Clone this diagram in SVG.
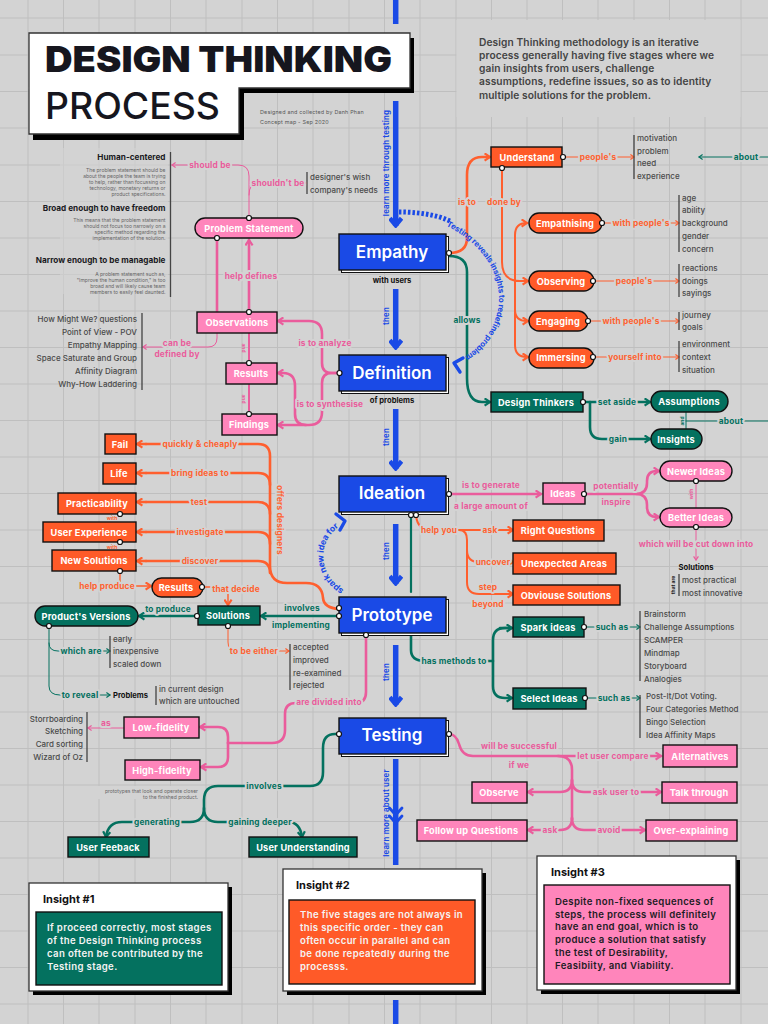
<svg xmlns="http://www.w3.org/2000/svg" width="768" height="1024" viewBox="0 0 768 1024">
<style>
text{font-family:Inter,"Liberation Sans",sans-serif}
.bg{fill:#d3d3d3}
.grid{stroke:#bfbfbf;stroke-width:1;fill:none}
.n{fill:none;stroke-linecap:round;stroke-linejoin:round}
.co{stroke:#ff5f2e}.ct{stroke:#04715f}.cp{stroke:#ea5c9c}.cb{stroke:#1a4ae6}
.w3{stroke-width:2.6}.w2{stroke-width:2}.w1{stroke-width:1}
.bar{stroke:#444;stroke-width:1.3;fill:none}
.l{font-size:8.3px;font-weight:700;text-anchor:middle;stroke:#d3d3d3;stroke-width:4;stroke-linejoin:round;paint-order:stroke;letter-spacing:.2px}
.lo{fill:#ff6230}.lt{fill:#04715f}.lp{fill:#ea5c9c}
.lb{font-size:7.8px;font-weight:700;fill:#1a4ae6;text-anchor:middle;letter-spacing:.2px}
.i{font-size:8px;fill:#4a4a4a;font-weight:500}
.ir{text-anchor:end}
.s{font-size:5px;fill:#666;text-anchor:end}
.h{font-size:8.2px;font-weight:700;fill:#1a1a22;text-anchor:end}
.b{font-size:7.6px;font-weight:700;fill:#111}
.m{text-anchor:middle}
.sm{font-size:5px;font-weight:700;text-anchor:middle}
.nt{font-size:9.2px;font-weight:700;fill:#fff;text-anchor:middle;letter-spacing:.2px}
.st{font-size:17px;font-weight:600;fill:#fff;text-anchor:middle}
.bx{stroke:#111;stroke-width:1.4}
.O{fill:#ff5a28}.T{fill:#04715f}.P{fill:#ff85bb}.B{fill:#1a4ae6}
.d{fill:#fff;stroke:#111;stroke-width:1.2}
.card{fill:#fff;stroke:#333;stroke-width:1.3}
.sh{fill:#000}
.it{font-size:11px;font-weight:700;fill:#111}
.ct2{font-size:9.6px;font-weight:600;fill:#f4f4f4;letter-spacing:.35px}
.dsc{font-size:10.2px;font-weight:600;fill:#444;letter-spacing:.1px}
</style>
<defs>
<marker id="ao" viewBox="0 0 10 10" refX="8" refY="5" markerWidth="9" markerHeight="9" markerUnits="userSpaceOnUse" orient="auto"><path d="M2 1L8 5L2 9" fill="none" stroke="#ff5f2e" stroke-width="2.4"/></marker>
<marker id="at" viewBox="0 0 10 10" refX="8" refY="5" markerWidth="9" markerHeight="9" markerUnits="userSpaceOnUse" orient="auto"><path d="M2 1L8 5L2 9" fill="none" stroke="#04715f" stroke-width="2.4"/></marker>
<marker id="ap" viewBox="0 0 10 10" refX="8" refY="5" markerWidth="9" markerHeight="9" markerUnits="userSpaceOnUse" orient="auto"><path d="M2 1L8 5L2 9" fill="none" stroke="#ea5c9c" stroke-width="2.4"/></marker>
<marker id="so" viewBox="0 0 10 10" refX="8" refY="5" markerWidth="6" markerHeight="6" markerUnits="userSpaceOnUse" orient="auto"><path d="M2 1L8 5L2 9" fill="none" stroke="#ff5f2e" stroke-width="2"/></marker>
<marker id="st" viewBox="0 0 10 10" refX="8" refY="5" markerWidth="6" markerHeight="6" markerUnits="userSpaceOnUse" orient="auto"><path d="M2 1L8 5L2 9" fill="none" stroke="#04715f" stroke-width="2"/></marker>
<marker id="sp" viewBox="0 0 10 10" refX="8" refY="5" markerWidth="6" markerHeight="6" markerUnits="userSpaceOnUse" orient="auto"><path d="M2 1L8 5L2 9" fill="none" stroke="#ea5c9c" stroke-width="2"/></marker>
<marker id="ab" viewBox="0 0 10 10" refX="8.5" refY="5" markerWidth="14" markerHeight="14" markerUnits="userSpaceOnUse" orient="auto"><path d="M3 .8L8 5L3 9.2" fill="none" stroke="#1a4ae6" stroke-width="3.2"/></marker>
</defs>
<rect class="bg" width="768" height="1024"/>
<path class="grid" d="M28 0V1024M63.5 0V1024M99 0V1024M135 0V1024M170.5 0V1024M206 0V1024M242 0V1024M277.5 0V1024M313 0V1024M349 0V1024M384.500 0V1024M420 0V1024M456 0V1024M491.500 0V1024M527 0V1024M562.500 0V1024M598 0V1024M634 0V1024M669.500 0V1024M705 0V1024M741 0V1024M0 18H768M0 55H768M0 91.500H768M0 128H768M0 165H768M0 201.500H768M0 238H768M0 274.500H768M0 311H768M0 347.500H768M0 384H768M0 420.500H768M0 457H768M0 493.500H768M0 530H768M0 566.500H768M0 603H768M0 639.500H768M0 676H768M0 712H768M0 748.500H768M0 785H768M0 821.500H768M0 858H768M0 894.500H768M0 931H768M0 967.500H768M0 1004H768"/>
<rect class="bg" x="456.500" y="20" width="284" height="97"/>
<rect class="bg" x="60" y="148" width="108" height="146" opacity=".6"/>
<rect class="bg" x="92" y="786" width="108" height="13"/>

<g id="title">
<path class="sh" d="M33 38H414V93H244V140H33Z"/>
<path d="M29 33H410V88H239V134H29Z" fill="#fff" stroke="#333" stroke-width="1.3"/>
<text x="45" y="72" font-size="36" font-weight="900" fill="#16161e" textLength="347" lengthAdjust="spacingAndGlyphs">DESIGN THINKING</text>
<text x="45" y="119" font-size="37" font-weight="500" fill="#16161e" textLength="175" lengthAdjust="spacingAndGlyphs">PROCESS</text>
<text x="260" y="114" font-size="5.400" fill="#555" letter-spacing=".2">Designed and collected by Danh Phan</text>
<text x="260" y="124" font-size="5.400" fill="#555" letter-spacing=".2">Concept map - Sep 2020</text>
</g>
<g id="description" class="dsc">
<text x="479" y="45.500">Design Thinking methodology is an iterative</text>
<text x="479" y="58.500">process generally having five stages where we</text>
<text x="479" y="72">gain insights from users, challenge</text>
<text x="479" y="85">assumptions, redefine issues, so as to identity</text>
<text x="479" y="98.500">multiple solutions for the problem.</text>
</g>

<g id="connectors">
<g class="n cb">
<path d="M395.700 0V24" stroke-width="5.500" stroke-linecap="butt"/>
<path d="M395.700 101V226" stroke-width="5.500" marker-end="url(#ab)" stroke-linecap="butt"/>
<path d="M395.700 289V348" stroke-width="5.500" marker-end="url(#ab)" stroke-linecap="butt"/>
<path d="M395.700 409V469" stroke-width="5.500" marker-end="url(#ab)" stroke-linecap="butt"/>
<path d="M395.700 524V584" stroke-width="5.500" marker-end="url(#ab)" stroke-linecap="butt"/>
<path d="M395.700 645V705" stroke-width="5.500" marker-end="url(#ab)" stroke-linecap="butt"/>
<path d="M395.700 759V865" stroke-width="5.500" stroke-linecap="butt"/>
<path d="M389.500 808L395.700 815L402 808M389.500 816L395.700 823L402 816" stroke-width="2.800"/>
<path d="M395.700 1000V1024" stroke-width="5.500" stroke-linecap="butt"/>
<path d="M399 212C415 212 435 214 450 221" stroke-width="5" stroke-dasharray="2.500 2" stroke-linecap="butt"/>
<path d="M463 358L454 363L460 372" stroke-width="3.400"/>
<path d="M336 514L345 521L340 530" stroke-width="3.400"/>
</g>
<g class="n cp w3">
<path d="M217 238V312"/>
<path d="M249 312V240" marker-end="url(#ap)"/>
<path d="M339 373H332Q322 373 322 363V334Q322 321 309 321H278" marker-end="url(#ap)"/>
<path d="M339 373H332Q322 373 322 383V412Q322 425 309 425H278" marker-end="url(#ap)"/>
<path d="M306 425Q295 425 295 414V386Q295 373 283 373H278" marker-end="url(#ap)"/>
<path d="M249 333V363M249 384V414" stroke-width="2"/>
<path d="M449 494H541" marker-end="url(#ap)"/>
<path d="M584 494H636Q647 494 647 483V481Q647 471 657 471H659" marker-end="url(#ap)"/>
<path d="M636 494Q647 494 647 505V507Q647 517 657 517H659" marker-end="url(#ap)"/>
<path d="M366 635V692Q366 703 356 703H296Q285 703 285 714V730Q285 743 272 743H228"/>
<path d="M228 743V737Q228 727 218 727H200" marker-end="url(#ap)"/>
<path d="M228 743V757Q228 767 218 767H201" marker-end="url(#ap)"/>
<path d="M449 734Q456 734 459 744Q462 756 473 756H558Q572 756 572 770V820"/>
<path d="M558 756H661" marker-end="url(#ap)"/>
<path d="M572 780Q572 792 560 792H528" marker-end="url(#ap)"/>
<path d="M572 780Q572 792 584 792H661" marker-end="url(#ap)"/>
<path d="M572 818Q572 830 560 830H528" marker-end="url(#ap)"/>
<path d="M572 818Q572 830 584 830H645" marker-end="url(#ap)"/>
</g>
<g class="n cp w1">
<path d="M249 218V176Q249 165 238 165H172" marker-end="url(#sp)"/>
<path d="M249 195Q249 183 258 183H306"/>
<path d="M217 333V338Q217 347 208 347H143" marker-end="url(#sp)"/>
<path d="M124 728H88" marker-end="url(#sp)"/>
<path d="M696 481V508"/>
<path d="M696 527V560" marker-end="url(#sp)"/>
</g>
<g class="n co w3">
<path d="M449 253Q467 253 467 238V175Q467 157 482 157H490" marker-end="url(#ao)"/>
<path d="M146 444H258Q270 444 270 456V566Q270 583 287 583H306Q322 583 323 598Q324 608 339 609"/>
<path d="M146 473H258Q270 473 270 485"/>
<path d="M146 502H258Q270 502 270 514"/>
<path d="M146 532H258Q270 532 270 544"/>
<path d="M146 561H258Q270 561 270 573"/>
<path d="M146 444H137" marker-end="url(#ao)"/>
<path d="M146 473H137" marker-end="url(#ao)"/>
<path d="M146 502H137" marker-end="url(#ao)"/>
<path d="M146 532H137" marker-end="url(#ao)"/>
<path d="M146 561H137" marker-end="url(#ao)"/>
<path d="M515 281V235Q515 223 527 223" marker-end="url(#ao)" stroke-width="2"/>
<path d="M502 168V262Q502 281 520 281H528" marker-end="url(#ao)" stroke-width="2"/>
<path d="M515 281V310Q515 321 527 321H528" marker-end="url(#ao)" stroke-width="2"/>
<path d="M515 310V345Q515 357 527 357H528" marker-end="url(#ao)" stroke-width="2"/>
<path d="M416 516Q418 530 430 530H513" marker-end="url(#ao)" stroke-width="2"/>
<path d="M459 530Q467 530 467 540V582Q467 594 479 594H513" marker-end="url(#ao)" stroke-width="2"/>
<path d="M467 550Q467 562 479 562H513" marker-end="url(#ao)" stroke-width="2"/>
<path d="M120 571V586H151" marker-end="url(#ao)" stroke-width="1.400"/>
<path d="M202 587H228V605" marker-end="url(#ao)" stroke-width="1.400"/>
</g>
<g class="n co w1">
<path d="M566 157H634" marker-end="url(#so)"/>
<path d="M604 223H679" marker-end="url(#so)"/>
<path d="M595 281H679" marker-end="url(#so)"/>
<path d="M590 321H679" marker-end="url(#so)"/>
<path d="M595 357H679" marker-end="url(#so)"/>
<path d="M228 628V642Q228 651 236 651H289" marker-end="url(#so)"/>
</g>
<g class="n ct w3">
<path d="M449 256Q467 256 467 272V378Q467 402 482 402H490" marker-end="url(#at)"/>
<path d="M583 402H650" marker-end="url(#at)"/>
<path d="M590 402V427Q590 439 602 439H650" marker-end="url(#at)"/>
<path d="M339 616H261" marker-end="url(#at)"/>
<path d="M197 616H139" marker-end="url(#at)"/>
<path d="M411 516V592" stroke-width="2.200"/>
<path d="M411 633V650Q411 661 425 661H493"/>
<path d="M512 628H505Q493 628 493 640V686Q493 698 505 698H512" marker-end="url(#at)"/>
<path d="M500 628H512" marker-end="url(#at)"/>
<path d="M339 734H335Q323 734 323 748V772Q323 786 310 786H218Q204 786 204 800V808Q204 822 190 822H122Q108 822 106 837" marker-end="url(#at)"/>
<path d="M204 808Q204 822 218 822H288Q300 822 302 837" marker-end="url(#at)"/>
</g>
<g class="n ct w1">
<path d="M768 157H699" marker-end="url(#st)"/>
<path d="M686 412V429"/>
<path d="M686 421H768"/>
<path d="M49 628V643Q49 651 58 651H110" marker-end="url(#st)"/>
<path d="M49 643V686Q49 695 60 695H110" marker-end="url(#st)"/>
<path d="M586 627H640" marker-end="url(#st)"/>
<path d="M587 698H640" marker-end="url(#st)"/>
</g>
<g class="bar">
<path d="M170.500 152V297M307 172V194M142 313V390M634 135V179M679 195V252M679 264V297M679 312V330M679 341V372M110 636V668M156 686V705M290 644V690M87 712V762M679 574V596M640 611V681M640 695V738"/>
</g>
<g>
<text class="l lo" x="598" y="160">people's</text>
<text class="l lo" x="467" y="205">is to</text>
<text class="l lo" x="504" y="205">done by</text>
<text class="l lt" x="746" y="160">about</text>
<text class="l lo" x="641" y="226">with people's</text>
<text class="l lo" x="634" y="284">people's</text>
<text class="l lo" x="631" y="324">with people's</text>
<text class="l lo" x="635" y="360">yourself into</text>
<text class="l lt" x="467" y="323">allows</text>
<text class="l lt" x="617" y="405">set aside</text>
<text class="l lt" x="618" y="442">gain</text>
<text class="l lt" x="731" y="424">about</text>
<text class="l lp" x="210" y="168">should be</text>
<text class="l lp" x="278" y="186">shouldn't be</text>
<text class="l lp" x="251" y="279">help defines</text>
<text class="l lp" x="177" y="346">can be</text>
<text class="l lp" x="177" y="357">defined by</text>
<text class="l lp" x="325" y="346">is to analyze</text>
<text class="l lp" x="330" y="407">is to synthesise</text>
<text class="l lo" x="200" y="447">quickly &amp; cheaply</text>
<text class="l lo" x="200" y="476">bring ideas to</text>
<text class="l lo" x="199" y="505">test</text>
<text class="l lo" x="200" y="535">investigate</text>
<text class="l lo" x="200" y="564">discover</text>
<text class="l lo" transform="translate(277 520) rotate(90)" x="0" y="0">offers designers</text>
<text class="l lo" x="107" y="589">help produce</text>
<text class="l lo" x="236" y="592">that decide</text>
<text class="l lt" x="302" y="611">involves</text>
<text class="l lt" x="301" y="628">implementing</text>
<text class="l lt" x="168" y="612">to produce</text>
<text class="l lt" x="81" y="654">which are</text>
<text class="l lt" x="80" y="698">to reveal</text>
<text class="l lo" x="254" y="654">to be either</text>
<text class="l lp" x="329" y="705">are divided into</text>
<text class="l lp" x="106" y="726">as</text>
<text class="l lt" x="264" y="789">involves</text>
<text class="l lt" x="157" y="825">generating</text>
<text class="l lt" x="260" y="825">gaining deeper</text>
<text class="l lp" x="491" y="488">is to generate</text>
<text class="l lp" x="491" y="509">a large amount of</text>
<text class="l lp" x="616" y="489">potentially</text>
<text class="l lp" x="616" y="505">inspire</text>
<text class="l lp" x="696" y="546.500">which will be cut down into</text>
<text class="l lo" x="439" y="533">help you</text>
<text class="l lo" x="490" y="533">ask</text>
<text class="l lo" x="493" y="565">uncover</text>
<text class="l lo" x="488" y="590">step</text>
<text class="l lo" x="488" y="607">beyond</text>
<text class="l lt" x="454" y="664">has methods to</text>
<text class="l lt" x="612" y="630">such as</text>
<text class="l lt" x="614" y="701">such as</text>
<text class="l lp" x="519" y="749">will be successful</text>
<text class="l lp" x="519" y="768">if we</text>
<text class="l lp" x="613" y="758.500">let user compare</text>
<text class="l lp" x="616" y="795">ask user to</text>
<text class="l lp" x="550" y="833">ask</text>
<text class="l lp" x="609" y="833">avoid</text>
<text class="sm" fill="#ea5c9c" transform="translate(242 348) rotate(90)">and</text>
<text class="sm" fill="#ea5c9c" transform="translate(242 399) rotate(90)">and</text>
<text class="sm" fill="#ff6230" x="112" y="520">with</text>
<text class="sm" fill="#ff6230" x="112" y="549">with</text>
<text class="sm" fill="#04715f" transform="translate(684 421) rotate(-90)">and</text>
<text class="sm" fill="#ea5c9c" transform="translate(693 494) rotate(-90)">with</text>
<text class="sm" fill="#222" transform="translate(675 585) rotate(-90)">that are</text>
<text class="lb" transform="translate(388.500 163) rotate(-90)">learn more through testing</text>
<text class="lb" transform="translate(388.500 316) rotate(-90)">then</text>
<text class="lb" transform="translate(388.500 437) rotate(-90)">then</text>
<text class="lb" transform="translate(388.500 551) rotate(-90)">then</text>
<text class="lb" transform="translate(388.500 672) rotate(-90)">then</text>
<text class="lb" transform="translate(388.500 813) rotate(-90)">learn more about user</text>
<path id="arc1" d="M399 212C450 212 503 250 502 300C501 330 480 355 456 364" fill="none"/>
<text font-size="8" font-weight="700" fill="#1a4ae6" dy="3"><textPath href="#arc1" startOffset="50">Testing reveals insights to redefine problem</textPath></text>
<path id="arc2" d="M343 593C316 578 310 540 342 521" fill="none"/>
<text font-size="8.600" font-weight="700" fill="#1a4ae6" dy="3"><textPath href="#arc2" startOffset="1" letter-spacing=".2">spark new idea for</textPath></text>
</g>
</g>

<g id="texts-left">
<text class="h" x="165.500" y="160">Human-centered</text>
<text class="s" x="165.500" y="172">The problem statement should be</text>
<text class="s" x="165.500" y="178">about the people the team is trying</text>
<text class="s" x="165.500" y="184">to help, rather than focussing on</text>
<text class="s" x="165.500" y="190">technology, monetary returns or</text>
<text class="s" x="165.500" y="196">product specifications.</text>
<text class="h" x="165.500" y="211">Broad enough to have freedom</text>
<text class="s" x="165.500" y="222">This means that the problem statement</text>
<text class="s" x="165.500" y="228">should not focus too narrowly on a</text>
<text class="s" x="165.500" y="234">specific method regarding the</text>
<text class="s" x="165.500" y="240">implementation of the solution.</text>
<text class="h" x="165.500" y="263">Narrow enough to be managable</text>
<text class="s" x="165.500" y="276">A problem statement such as,</text>
<text class="s" x="165.500" y="282">"Improve the human condition," is too</text>
<text class="s" x="165.500" y="288">broad and will likely cause team</text>
<text class="s" x="165.500" y="294">members to easily feel daunted.</text>
<text class="s" x="198" y="792.500">prototypes that look and operate closer</text>
<text class="s" x="198" y="798.500">to the finished product.</text>
</g>
<g id="lists">
<text class="i" x="310" y="180">designer's wish</text><text class="i" x="310" y="193">company's needs</text>
<text class="i ir" x="137" y="322">How Might We? questions</text><text class="i ir" x="137" y="335">Point of View - POV</text><text class="i ir" x="137" y="348">Empathy Mapping</text><text class="i ir" x="137" y="361">Space Saturate and Group</text><text class="i ir" x="137" y="374">Affinity Diagram</text><text class="i ir" x="137" y="387">Why-How Laddering</text>
<text class="i" x="637" y="140.500">motivation</text><text class="i" x="637" y="153.500">problem</text><text class="i" x="637" y="166">need</text><text class="i" x="637" y="179">experience</text>
<text class="i" x="682" y="200.500">age</text><text class="i" x="682" y="213">ability</text><text class="i" x="682" y="226">background</text><text class="i" x="682" y="239">gender</text><text class="i" x="682" y="252">concern</text>
<text class="i" x="682" y="271">reactions</text><text class="i" x="682" y="284">doings</text><text class="i" x="682" y="296">sayings</text>
<text class="i" x="682" y="318">journey</text><text class="i" x="682" y="330">goals</text>
<text class="i" x="682" y="347">environment</text><text class="i" x="682" y="360">context</text><text class="i" x="682" y="373">situation</text>
<text class="i" x="113" y="642">early</text><text class="i" x="113" y="654">inexpensive</text><text class="i" x="113" y="667">scaled down</text>
<text class="b" x="113" y="698">Problems</text>
<text class="i" x="159" y="692">in current design</text><text class="i" x="159" y="704">which  are untouched</text>
<text class="i" x="293" y="650">accepted</text><text class="i" x="293" y="663">improved</text><text class="i" x="293" y="676">re-examined</text><text class="i" x="293" y="688">rejected</text>
<text class="i ir" x="83" y="722">Storrboarding</text><text class="i ir" x="83" y="734">Sketching</text><text class="i ir" x="83" y="747">Card sorting</text><text class="i ir" x="83" y="760">Wizard of Oz</text>
<text class="b m" x="696" y="570">Solutions</text>
<text class="i" x="682" y="583">most practical</text><text class="i" x="682" y="596">most innovative</text>
<text class="i" x="644" y="617">Brainstorm</text><text class="i" x="644" y="630">Challenge Assumptions</text><text class="i" x="644" y="643">SCAMPER</text><text class="i" x="644" y="656">Mindmap</text><text class="i" x="644" y="669">Storyboard</text><text class="i" x="644" y="682">Analogies</text>
<text class="i" x="646" y="699">Post-It/Dot Voting.</text><text class="i" x="646" y="712">Four Categories Method</text><text class="i" x="646" y="725">Bingo Selection</text><text class="i" x="646" y="738">Idea Affinity Maps</text>
<text class="b m" x="392" y="283">with users</text>
<text class="b m" x="392" y="403">of problems</text>
</g>

<g id="empathy"><rect x="341.500" y="236.500" width="107" height="36" fill="#fff" stroke="#111" stroke-width="1"/><rect class="B bx" x="339" y="234" width="107" height="36"/><text class="st" x="392" y="258">Empathy</text><circle class="d" cx="449" cy="253" r="2.500"/></g>
<g id="definition"><rect x="341.500" y="357.500" width="107" height="36" fill="#fff" stroke="#111" stroke-width="1"/><rect class="B bx" x="339" y="355" width="107" height="36"/><text class="st" x="392" y="379">Definition</text><circle class="d" cx="339.500" cy="373" r="2.500"/></g>
<g id="ideation"><rect x="341.500" y="478.500" width="107" height="36" fill="#fff" stroke="#111" stroke-width="1"/><rect class="B bx" x="339" y="476" width="107" height="36"/><text class="st" x="392" y="499">Ideation</text><circle class="d" cx="449" cy="494" r="2.500"/><circle class="d" cx="411" cy="515" r="2.500"/><circle class="d" cx="416" cy="515" r="2.500"/></g>
<g id="prototype"><rect x="341.500" y="599.500" width="107" height="36" fill="#fff" stroke="#111" stroke-width="1"/><rect class="B bx" x="339" y="597" width="107" height="36"/><text class="st" x="392" y="621">Prototype</text><circle class="d" cx="339" cy="608" r="2.500"/><circle class="d" cx="339" cy="616" r="2.500"/><circle class="d" cx="366" cy="635" r="2.500"/></g>
<g id="testing"><rect x="341.500" y="720.500" width="107" height="36" fill="#fff" stroke="#111" stroke-width="1"/><rect class="B bx" x="339" y="718" width="107" height="36"/><text class="st" x="392" y="741">Testing</text><circle class="d" cx="339" cy="734" r="2.500"/><circle class="d" cx="449" cy="734" r="2.500"/></g>

<g id="understand"><rect class="O bx" x="491" y="147" width="71" height="20"/><text class="nt" x="527" y="160.500">Understand</text><circle class="d" cx="563" cy="157" r="2.500"/><circle class="d" cx="502" cy="168" r="2.500"/></g>
<g id="empathising"><rect class="O bx" x="529" y="213" width="73" height="20" rx="10"/><text class="nt" x="565" y="226.500">Empathising</text><circle class="d" cx="602" cy="223" r="2.500"/></g>
<g id="observing"><rect class="O bx" x="529" y="271" width="65" height="20" rx="10"/><text class="nt" x="561" y="284.500">Observing</text><circle class="d" cx="593" cy="281" r="2.500"/></g>
<g id="engaging"><rect class="O bx" x="529" y="311" width="59" height="20" rx="10"/><text class="nt" x="558" y="324.500">Engaging</text><circle class="d" cx="588" cy="321" r="2.500"/></g>
<g id="immersing"><rect class="O bx" x="529" y="348" width="65" height="20" rx="10"/><text class="nt" x="561" y="361">Immersing</text><circle class="d" cx="593" cy="357" r="2.500"/></g>
<g id="design-thinkers"><rect class="T bx" x="491" y="392" width="92" height="20"/><text class="nt" x="536" y="405.500">Design Thinkers</text><circle class="d" cx="583" cy="402" r="2.500"/></g>
<g id="assumptions"><rect class="T bx" x="651" y="391" width="77" height="21" rx="10.500"/><text class="nt" x="689" y="405">Assumptions</text></g>
<g id="insights"><rect class="T bx" x="651" y="429" width="51" height="20" rx="10"/><text class="nt" x="676" y="442.500">Insights</text></g>
<g id="problem-statement"><rect class="P bx" x="195" y="218" width="108" height="20" rx="10"/><text class="nt" x="249" y="231.500">Problem Statement</text><circle class="d" cx="249" cy="218" r="2.500"/><circle class="d" cx="217" cy="238" r="2.500"/></g>
<g id="observations"><rect class="P bx" x="197" y="312" width="80" height="21"/><text class="nt" x="237" y="326">Observations</text><circle class="d" cx="249" cy="312" r="2.500"/></g>
<g id="results-pink"><rect class="P bx" x="226" y="363" width="51" height="21"/><text class="nt" x="251" y="377">Results</text><circle class="d" cx="249" cy="363" r="2.500"/></g>
<g id="findings"><rect class="P bx" x="222" y="414" width="55" height="21"/><text class="nt" x="249" y="428">Findings</text><circle class="d" cx="249" cy="414" r="2.500"/></g>
<g id="fail"><rect class="O bx" x="105" y="434" width="31" height="20"/><text class="nt" x="120" y="447.500">Fail</text></g>
<g id="life"><rect class="O bx" x="103" y="463" width="33" height="21"/><text class="nt" x="119" y="477">Life</text></g>
<g id="practicability"><rect class="O bx" x="58" y="493" width="78" height="21"/><text class="nt" x="97" y="507">Practicability</text><circle class="d" cx="120" cy="514" r="2.500"/></g>
<g id="user-experience"><rect class="O bx" x="43" y="522" width="93" height="20"/><text class="nt" x="89" y="535.500">User Experience</text><circle class="d" cx="120" cy="542" r="2.500"/></g>
<g id="new-solutions"><rect class="O bx" x="52" y="550" width="84" height="21"/><text class="nt" x="94" y="564">New Solutions</text><circle class="d" cx="120" cy="571" r="2.500"/></g>
<g id="results-orange"><rect class="O bx" x="152" y="578" width="51" height="19" rx="9.500"/><text class="nt" x="176" y="591">Results</text><circle class="d" cx="202" cy="587" r="2.500"/></g>
<g id="solutions"><rect class="T bx" x="198" y="606" width="62" height="19"/><text class="nt" x="228" y="619">Solutions</text><circle class="d" cx="197" cy="616" r="2.500"/><circle class="d" cx="228" cy="626" r="2.500"/></g>
<g id="product-versions"><rect class="T bx" x="35" y="606" width="103" height="20" rx="10"/><text class="nt" x="86" y="619.500">Product's Versions</text><circle class="d" cx="49" cy="626" r="2.500"/></g>
<g id="low-fidelity"><rect class="P bx" x="124" y="717" width="75" height="21"/><text class="nt" x="161" y="731">Low-fidelity</text></g>
<g id="high-fidelity"><rect class="P bx" x="125" y="760" width="75" height="20"/><text class="nt" x="162" y="773.500">High-fidelity</text></g>
<g id="user-feedback"><rect class="T bx" x="68" y="837" width="81" height="20"/><text class="nt" x="108" y="850.500">User Feeback</text></g>
<g id="user-understanding"><rect class="T bx" x="249" y="837" width="108" height="20"/><text class="nt" x="303" y="850.500">User Understanding</text></g>
<g id="ideas"><rect class="P bx" x="543" y="483" width="42" height="21"/><text class="nt" x="563" y="497">Ideas</text><circle class="d" cx="584" cy="494" r="2.500"/></g>
<g id="newer-ideas"><rect class="P bx" x="660" y="461" width="72" height="20" rx="10"/><text class="nt" x="696" y="474.500">Newer Ideas</text><circle class="d" cx="696" cy="481" r="2.500"/></g>
<g id="better-ideas"><rect class="P bx" x="660" y="508" width="72" height="19" rx="9.500"/><text class="nt" x="696" y="521">Better Ideas</text><circle class="d" cx="696" cy="527" r="2.500"/></g>
<g id="right-questions"><rect class="O bx" x="513" y="520" width="91" height="21"/><text class="nt" x="558" y="534">Right Questions</text></g>
<g id="unexpected-areas"><rect class="O bx" x="513" y="553" width="103" height="21"/><text class="nt" x="564" y="567">Unexpected Areas</text></g>
<g id="obvious-solutions"><rect class="O bx" x="513" y="585" width="107" height="20"/><text class="nt" x="566" y="598.500">Obviouse Solutions</text></g>
<g id="spark-ideas"><rect class="T bx" x="513" y="617" width="71" height="20"/><text class="nt" x="548" y="630.500">Spark ideas</text><circle class="d" cx="584" cy="627" r="2.500"/></g>
<g id="select-ideas"><rect class="T bx" x="513" y="688" width="73" height="21"/><text class="nt" x="549" y="702">Select Ideas</text><circle class="d" cx="585" cy="698" r="2.500"/></g>
<g id="alternatives"><rect class="P bx" x="663" y="745" width="74" height="22"/><text class="nt" x="700" y="759.500">Alternatives</text></g>
<g id="observe"><rect class="P bx" x="472" y="782" width="55" height="21"/><text class="nt" x="499" y="796">Observe</text></g>
<g id="talk-through"><rect class="P bx" x="662" y="782" width="75" height="21"/><text class="nt" x="699" y="796">Talk through</text></g>
<g id="follow-up"><rect class="P bx" x="417" y="820" width="110" height="21"/><text class="nt" x="471" y="834">Follow up Questions</text></g>
<g id="over-explaining"><rect class="P bx" x="646" y="820" width="91" height="21"/><text class="nt" x="691" y="834">Over-explaining</text></g>

<g id="insight-1"><rect class="sh" x="33" y="887" width="199" height="108"/><rect class="card" x="29" y="883" width="199" height="108"/><text class="it" x="43" y="903">Insight #1</text><rect class="T bx" x="36" y="912" width="186" height="73"/>
<text class="ct2" x="47" y="930.500">If proceed correctly, most stages</text><text class="ct2" x="47" y="943.500">of the Design Thinking process</text><text class="ct2" x="47" y="956.500">can often be contributed by the</text><text class="ct2" x="47" y="969.500">Testing stage.</text></g>
<g id="insight-2"><rect class="sh" x="287" y="873" width="199" height="122"/><rect class="card" x="283" y="869" width="199" height="122"/><text class="it" x="296" y="889">Insight #2</text><rect class="O bx" x="289" y="900" width="186" height="84"/>
<text class="ct2" x="300" y="917.500">The five stages are not always in</text><text class="ct2" x="300" y="930.500">this specific order - they can</text><text class="ct2" x="300" y="943.500">often occur in parallel and can</text><text class="ct2" x="300" y="956.500">be done repeatedly during the</text><text class="ct2" x="300" y="969.500">processs.</text></g>
<g id="insight-3"><rect class="sh" x="541" y="860" width="199" height="134"/><rect class="card" x="537" y="856" width="199" height="134"/><text class="it" x="551" y="876">Insight #3</text><rect class="P bx" x="544" y="885" width="186" height="99"/>
<g class="ct2" style="fill:#1c1c24"><text x="555" y="904.500">Despite non-fixed sequences of</text><text x="555" y="917.500">steps, the process will definitely</text><text x="555" y="930">have an end goal, which is to</text><text x="555" y="943">produce a solution that satisfy</text><text x="555" y="956">the test of Desirability,</text><text x="555" y="968.500">Feasibiity, and Viability.</text></g></g>
</svg>
